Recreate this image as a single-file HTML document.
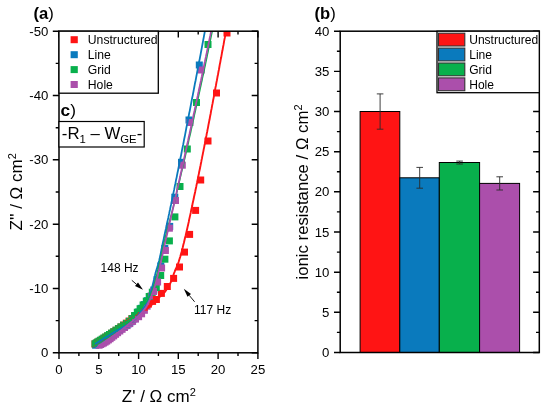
<!DOCTYPE html>
<html><head><meta charset="utf-8"><title>Figure</title>
<style>html,body{margin:0;padding:0;background:#fff}body{width:550px;height:413px;overflow:hidden}</style></head>
<body>
<svg width="550" height="413" viewBox="0 0 550 413" style="display:block">
<rect width="550" height="413" fill="#fff"/>
<defs><clipPath id="cl"><rect x="59" y="31.2" width="198.9" height="321.6"/></clipPath></defs>
<g clip-path="url(#cl)">
<rect x="92.1" y="341.7" width="7" height="7" fill="#0a7abd"/>
<rect x="91.5" y="340.5" width="7" height="7" fill="#ff1414"/>
<rect x="93.3" y="340.9" width="7" height="7" fill="#0a7abd"/>
<rect x="91.5" y="340.3" width="7" height="7" fill="#08b04c"/>
<rect x="95.6" y="341.7" width="7" height="7" fill="#ab4fab"/>
<rect x="92.9" y="339.7" width="7" height="7" fill="#ff1414"/>
<rect x="94.6" y="340.1" width="7" height="7" fill="#0a7abd"/>
<rect x="92.8" y="339.5" width="7" height="7" fill="#08b04c"/>
<rect x="97.0" y="341.0" width="7" height="7" fill="#ab4fab"/>
<rect x="94.3" y="338.8" width="7" height="7" fill="#ff1414"/>
<rect x="96.0" y="339.2" width="7" height="7" fill="#0a7abd"/>
<rect x="94.1" y="338.6" width="7" height="7" fill="#08b04c"/>
<rect x="98.5" y="340.3" width="7" height="7" fill="#ab4fab"/>
<rect x="95.7" y="337.9" width="7" height="7" fill="#ff1414"/>
<rect x="97.5" y="338.3" width="7" height="7" fill="#0a7abd"/>
<rect x="95.6" y="337.7" width="7" height="7" fill="#08b04c"/>
<rect x="100.0" y="339.5" width="7" height="7" fill="#ab4fab"/>
<rect x="97.3" y="337.0" width="7" height="7" fill="#ff1414"/>
<rect x="99.0" y="337.3" width="7" height="7" fill="#0a7abd"/>
<rect x="97.1" y="336.7" width="7" height="7" fill="#08b04c"/>
<rect x="101.6" y="338.6" width="7" height="7" fill="#ab4fab"/>
<rect x="98.9" y="335.9" width="7" height="7" fill="#ff1414"/>
<rect x="100.6" y="336.2" width="7" height="7" fill="#0a7abd"/>
<rect x="98.7" y="335.7" width="7" height="7" fill="#08b04c"/>
<rect x="103.2" y="337.6" width="7" height="7" fill="#ab4fab"/>
<rect x="100.6" y="334.8" width="7" height="7" fill="#ff1414"/>
<rect x="102.3" y="335.1" width="7" height="7" fill="#0a7abd"/>
<rect x="100.4" y="334.6" width="7" height="7" fill="#08b04c"/>
<rect x="104.9" y="336.4" width="7" height="7" fill="#ab4fab"/>
<rect x="102.4" y="333.7" width="7" height="7" fill="#ff1414"/>
<rect x="104.0" y="334.0" width="7" height="7" fill="#0a7abd"/>
<rect x="102.2" y="333.5" width="7" height="7" fill="#08b04c"/>
<rect x="106.6" y="335.2" width="7" height="7" fill="#ab4fab"/>
<rect x="104.2" y="332.5" width="7" height="7" fill="#ff1414"/>
<rect x="105.9" y="332.8" width="7" height="7" fill="#0a7abd"/>
<rect x="104.1" y="332.2" width="7" height="7" fill="#08b04c"/>
<rect x="108.3" y="333.8" width="7" height="7" fill="#ab4fab"/>
<rect x="106.2" y="331.2" width="7" height="7" fill="#ff1414"/>
<rect x="107.8" y="331.5" width="7" height="7" fill="#0a7abd"/>
<rect x="106.0" y="331.0" width="7" height="7" fill="#08b04c"/>
<rect x="110.2" y="332.4" width="7" height="7" fill="#ab4fab"/>
<rect x="108.2" y="329.8" width="7" height="7" fill="#ff1414"/>
<rect x="109.9" y="330.1" width="7" height="7" fill="#0a7abd"/>
<rect x="108.1" y="329.6" width="7" height="7" fill="#08b04c"/>
<rect x="112.1" y="330.8" width="7" height="7" fill="#ab4fab"/>
<rect x="110.4" y="328.4" width="7" height="7" fill="#ff1414"/>
<rect x="112.0" y="328.7" width="7" height="7" fill="#0a7abd"/>
<rect x="110.2" y="328.2" width="7" height="7" fill="#08b04c"/>
<rect x="114.1" y="329.2" width="7" height="7" fill="#ab4fab"/>
<rect x="112.6" y="326.8" width="7" height="7" fill="#ff1414"/>
<rect x="114.3" y="327.1" width="7" height="7" fill="#0a7abd"/>
<rect x="112.5" y="326.7" width="7" height="7" fill="#08b04c"/>
<rect x="116.3" y="327.5" width="7" height="7" fill="#ab4fab"/>
<rect x="115.0" y="325.2" width="7" height="7" fill="#ff1414"/>
<rect x="116.7" y="325.5" width="7" height="7" fill="#0a7abd"/>
<rect x="114.9" y="325.1" width="7" height="7" fill="#08b04c"/>
<rect x="118.6" y="325.8" width="7" height="7" fill="#ab4fab"/>
<rect x="117.5" y="323.5" width="7" height="7" fill="#ff1414"/>
<rect x="119.2" y="323.9" width="7" height="7" fill="#0a7abd"/>
<rect x="117.4" y="323.4" width="7" height="7" fill="#08b04c"/>
<rect x="121.0" y="324.0" width="7" height="7" fill="#ab4fab"/>
<rect x="120.1" y="321.6" width="7" height="7" fill="#ff1414"/>
<rect x="121.9" y="322.2" width="7" height="7" fill="#0a7abd"/>
<rect x="120.1" y="321.7" width="7" height="7" fill="#08b04c"/>
<rect x="123.6" y="322.1" width="7" height="7" fill="#ab4fab"/>
<rect x="122.8" y="319.7" width="7" height="7" fill="#ff1414"/>
<rect x="124.8" y="320.4" width="7" height="7" fill="#0a7abd"/>
<rect x="123.0" y="319.9" width="7" height="7" fill="#08b04c"/>
<rect x="126.3" y="320.1" width="7" height="7" fill="#ab4fab"/>
<rect x="125.6" y="317.6" width="7" height="7" fill="#ff1414"/>
<rect x="127.6" y="318.2" width="7" height="7" fill="#0a7abd"/>
<rect x="125.8" y="317.8" width="7" height="7" fill="#08b04c"/>
<rect x="129.1" y="317.9" width="7" height="7" fill="#ab4fab"/>
<rect x="128.5" y="315.1" width="7" height="7" fill="#ff1414"/>
<rect x="130.1" y="315.4" width="7" height="7" fill="#0a7abd"/>
<rect x="128.5" y="315.2" width="7" height="7" fill="#08b04c"/>
<rect x="132.0" y="315.6" width="7" height="7" fill="#ab4fab"/>
<rect x="131.2" y="312.2" width="7" height="7" fill="#ff1414"/>
<rect x="132.5" y="312.0" width="7" height="7" fill="#0a7abd"/>
<rect x="131.1" y="312.1" width="7" height="7" fill="#08b04c"/>
<rect x="135.1" y="313.2" width="7" height="7" fill="#ab4fab"/>
<rect x="134.1" y="309.1" width="7" height="7" fill="#ff1414"/>
<rect x="135.1" y="308.5" width="7" height="7" fill="#0a7abd"/>
<rect x="133.8" y="308.7" width="7" height="7" fill="#08b04c"/>
<rect x="138.1" y="310.3" width="7" height="7" fill="#ab4fab"/>
<rect x="137.4" y="306.3" width="7" height="7" fill="#ff1414"/>
<rect x="137.8" y="304.8" width="7" height="7" fill="#0a7abd"/>
<rect x="136.6" y="305.2" width="7" height="7" fill="#08b04c"/>
<rect x="140.9" y="306.8" width="7" height="7" fill="#ab4fab"/>
<rect x="141.1" y="303.6" width="7" height="7" fill="#ff1414"/>
<rect x="140.8" y="301.1" width="7" height="7" fill="#0a7abd"/>
<rect x="139.6" y="301.5" width="7" height="7" fill="#08b04c"/>
<rect x="143.6" y="302.7" width="7" height="7" fill="#ab4fab"/>
<rect x="144.9" y="300.6" width="7" height="7" fill="#ff1414"/>
<rect x="143.9" y="297.2" width="7" height="7" fill="#0a7abd"/>
<rect x="142.8" y="297.6" width="7" height="7" fill="#08b04c"/>
<rect x="146.0" y="297.8" width="7" height="7" fill="#ab4fab"/>
<rect x="149.1" y="297.9" width="7" height="7" fill="#ff1414"/>
<rect x="147.0" y="292.8" width="7" height="7" fill="#0a7abd"/>
<rect x="145.7" y="293.0" width="7" height="7" fill="#08b04c"/>
<rect x="148.3" y="292.3" width="7" height="7" fill="#ab4fab"/>
<rect x="148.8" y="288.7" width="7" height="7" fill="#08b04c"/>
<rect x="152.9" y="296.0" width="7" height="7" fill="#ff1414"/>
<rect x="157.9" y="289.9" width="7" height="7" fill="#ff1414"/>
<rect x="163.8" y="283.0" width="7" height="7" fill="#ff1414"/>
<rect x="170.1" y="274.9" width="7" height="7" fill="#ff1414"/>
<rect x="150.3" y="286.5" width="7" height="7" fill="#0a7abd"/>
<rect x="152.8" y="284.1" width="7" height="7" fill="#08b04c"/>
<rect x="150.0" y="288.0" width="7" height="7" fill="#ab4fab"/>
<rect x="176.0" y="263.5" width="7" height="7" fill="#ff1414"/>
<rect x="153.8" y="276.0" width="7" height="7" fill="#0a7abd"/>
<rect x="157.2" y="272.0" width="7" height="7" fill="#08b04c"/>
<rect x="154.1" y="278.5" width="7" height="7" fill="#ab4fab"/>
<rect x="181.0" y="248.6" width="7" height="7" fill="#ff1414"/>
<rect x="157.3" y="262.5" width="7" height="7" fill="#0a7abd"/>
<rect x="161.4" y="255.7" width="7" height="7" fill="#08b04c"/>
<rect x="158.1" y="264.5" width="7" height="7" fill="#ab4fab"/>
<rect x="186.1" y="230.9" width="7" height="7" fill="#ff1414"/>
<rect x="161.3" y="245.0" width="7" height="7" fill="#0a7abd"/>
<rect x="165.9" y="237.4" width="7" height="7" fill="#08b04c"/>
<rect x="161.9" y="247.0" width="7" height="7" fill="#ab4fab"/>
<rect x="192.1" y="206.9" width="7" height="7" fill="#ff1414"/>
<rect x="166.2" y="222.9" width="7" height="7" fill="#0a7abd"/>
<rect x="171.4" y="213.4" width="7" height="7" fill="#08b04c"/>
<rect x="165.9" y="224.7" width="7" height="7" fill="#ab4fab"/>
<rect x="197.2" y="176.5" width="7" height="7" fill="#ff1414"/>
<rect x="171.3" y="193.7" width="7" height="7" fill="#0a7abd"/>
<rect x="176.5" y="183.0" width="7" height="7" fill="#08b04c"/>
<rect x="172.0" y="197.0" width="7" height="7" fill="#ab4fab"/>
<rect x="204.5" y="137.5" width="7" height="7" fill="#ff1414"/>
<rect x="178.0" y="158.8" width="7" height="7" fill="#0a7abd"/>
<rect x="183.8" y="145.5" width="7" height="7" fill="#08b04c"/>
<rect x="178.8" y="161.7" width="7" height="7" fill="#ab4fab"/>
<rect x="213.0" y="89.5" width="7" height="7" fill="#ff1414"/>
<rect x="185.5" y="116.5" width="7" height="7" fill="#0a7abd"/>
<rect x="193.0" y="99.0" width="7" height="7" fill="#08b04c"/>
<rect x="186.5" y="119.0" width="7" height="7" fill="#ab4fab"/>
<rect x="223.5" y="29.5" width="7" height="7" fill="#ff1414"/>
<rect x="195.8" y="61.5" width="7" height="7" fill="#0a7abd"/>
<rect x="204.5" y="41.0" width="7" height="7" fill="#08b04c"/>
<rect x="197.8" y="66.5" width="7" height="7" fill="#ab4fab"/>
<path d="M226.4,29.0 L226.1,30.8 L225.7,32.5 L225.4,34.3 L225.1,36.1 L224.8,37.9 L224.4,39.6 L224.1,41.4 L223.8,43.2 L223.5,44.9 L223.1,46.7 L222.8,48.5 L222.5,50.3 L222.1,52.0 L221.8,53.8 L221.5,55.6 L221.2,57.3 L220.8,59.1 L220.5,60.9 L220.2,62.6 L219.8,64.4 L219.5,66.2 L219.2,68.0 L218.9,69.7 L218.5,71.5 L218.2,73.3 L217.9,75.0 L217.5,76.8 L217.2,78.6 L216.9,80.4 L216.5,82.1 L216.2,83.9 L215.9,85.7 L215.5,87.4 L215.2,89.2 L214.9,91.0 L214.6,92.7 L214.2,94.5 L213.9,96.3 L213.6,98.1 L213.2,99.8 L212.9,101.6 L212.6,103.4 L212.2,105.1 L211.9,106.9 L211.6,108.7 L211.2,110.4 L210.9,112.2 L210.6,114.0 L210.2,115.8 L209.9,117.5 L209.6,119.3 L209.2,121.1 L208.9,122.8 L208.5,124.6 L208.2,126.4 L207.9,128.1 L207.5,129.9 L207.2,131.7 L206.8,133.4 L206.5,135.2 L206.1,137.0 L205.8,138.7 L205.5,140.5 L205.1,142.3 L204.8,144.0 L204.4,145.8 L204.1,147.6 L203.7,149.3 L203.4,151.1 L203.0,152.9 L202.7,154.6 L202.3,156.4 L202.0,158.2 L201.6,159.9 L201.3,161.7 L200.9,163.5 L200.6,165.2 L200.2,167.0 L199.9,168.8 L199.5,170.5 L199.1,172.3 L198.8,174.1 L198.4,175.8 L198.1,177.6 L197.7,179.4 L197.3,181.1 L197.0,182.9 L196.6,184.7 L196.3,186.4 L195.9,188.2 L195.5,190.0 L195.2,191.7 L194.8,193.5 L194.4,195.2 L194.0,197.0 L193.7,198.8 L193.3,200.5 L192.9,202.3 L192.5,204.0 L192.2,205.8 L191.8,207.6 L191.4,209.3 L191.0,211.1 L190.7,212.9 L190.3,214.6 L189.9,216.4 L189.5,218.1 L189.1,219.9 L188.8,221.7 L188.4,223.4 L188.0,225.2 L187.6,226.9 L187.2,228.7 L186.8,230.4 L186.4,232.2 L186.0,234.0 L185.6,235.7 L185.1,237.5 L184.7,239.2 L184.3,241.0 L183.9,242.7 L183.4,244.5 L183.0,246.2 L182.6,248.0 L182.1,249.7 L181.7,251.4 L181.2,253.2 L180.7,254.9 L180.3,256.7 L179.7,258.4 L179.2,260.1 L178.7,261.8 L178.1,263.5 L177.4,265.2 L176.7,266.8 L176.0,268.5 L175.2,270.2 L174.6,271.8 L173.9,273.5 L173.4,275.2 L172.8,276.9 L172.2,278.7 L171.6,280.3 L170.9,282.0 L170.1,283.6 L169.3,285.2 L168.4,286.8 L167.4,288.3 L166.4,289.8 L165.4,291.3 L164.2,292.6 L163.0,293.9 L161.7,295.2 L160.3,296.4 L159.0,297.6 L157.7,298.9 L156.4,300.1 L155.1,301.4 L153.8,302.7 L152.5,304.0 L151.2,305.2 L149.9,306.4 L148.5,307.6 L147.1,308.7 L145.7,309.7" fill="none" stroke="#ff1414" stroke-width="1.9" stroke-linejoin="round"/>
<path d="M145.7,309.7 L144.2,310.7 L142.6,311.6 L141.1,312.5 L139.5,313.3 L137.8,314.1 L136.2,314.9 L134.6,315.8 L133.0,316.7 L131.5,317.6 L129.9,318.5 L128.4,319.4 L126.8,320.3 L125.3,321.3 L123.8,322.2 L122.2,323.2 L120.7,324.1 L119.2,325.1 L117.7,326.1 L116.2,327.0 L114.7,328.0 L113.2,329.0 L111.7,330.0 L110.2,331.0 L108.7,332.0 L107.2,333.0 L105.7,334.1 L104.2,335.1 L102.7,336.1 L101.3,337.2 L99.8,338.2 L98.4,339.3 L96.9,340.4 L95.4,341.4 L94.0,342.5" fill="none" stroke="#ff1414" stroke-width="1.0" stroke-linejoin="round"/>
<path d="M205.3,29.0 L204.9,31.1 L204.5,33.3 L204.1,35.4 L203.7,37.6 L203.3,39.7 L202.9,41.9 L202.5,44.0 L202.1,46.2 L201.7,48.3 L201.3,50.5 L200.9,52.6 L200.5,54.8 L200.1,56.9 L199.7,59.1 L199.2,61.2 L198.8,63.4 L198.4,65.5 L198.0,67.7 L197.6,69.8 L197.2,72.0 L196.8,74.1 L196.4,76.2 L196.0,78.4 L195.6,80.5 L195.1,82.7 L194.7,84.8 L194.3,87.0 L193.9,89.1 L193.5,91.3 L193.1,93.4 L192.7,95.6 L192.2,97.7 L191.8,99.9 L191.4,102.0 L191.0,104.1 L190.6,106.3 L190.2,108.4 L189.8,110.6 L189.3,112.7 L188.9,114.9 L188.5,117.0 L188.1,119.2 L187.7,121.3 L187.3,123.5 L186.8,125.6 L186.4,127.7 L186.0,129.9 L185.6,132.0 L185.2,134.2 L184.8,136.3 L184.3,138.5 L183.9,140.6 L183.5,142.8 L183.1,144.9 L182.6,147.1 L182.2,149.2 L181.8,151.3 L181.4,153.5 L181.0,155.6 L180.5,157.8 L180.1,159.9 L179.7,162.1 L179.3,164.2 L178.8,166.3 L178.4,168.5 L178.0,170.6 L177.5,172.8 L177.1,174.9 L176.7,177.1 L176.2,179.2 L175.8,181.3 L175.4,183.5 L174.9,185.6 L174.5,187.8 L174.1,189.9 L173.6,192.1 L173.2,194.2 L172.8,196.3 L172.3,198.5 L171.9,200.6 L171.4,202.8 L171.0,204.9 L170.5,207.0 L170.1,209.2 L169.6,211.3 L169.2,213.4 L168.7,215.6 L168.3,217.7 L167.8,219.9 L167.3,222.0 L166.9,224.1 L166.4,226.3 L166.0,228.4 L165.5,230.5 L165.0,232.7 L164.6,234.8 L164.1,236.9 L163.7,239.1 L163.2,241.2 L162.7,243.4 L162.3,245.5 L161.9,247.6 L161.4,249.8 L161.0,251.9 L160.6,254.1 L160.1,256.2 L159.7,258.3 L159.2,260.5 L158.6,262.6 L158.1,264.7 L157.4,266.8 L156.8,268.9 L156.1,271.0 L155.5,273.1 L155.0,275.2 L154.4,277.3 L154.0,279.4 L153.5,281.6 L153.0,283.7 L152.5,285.8 L152.0,288.0 L151.4,290.1 L150.8,292.1 L150.1,294.2 L149.4,296.3 L148.6,298.3 L147.8,300.4 L146.9,302.4 L146.0,304.4 L144.9,306.2 L143.6,308.0 L142.3,309.8 L141.0,311.5 L139.7,313.3 L138.4,315.2 L137.1,316.9 L135.7,318.6 L134.2,320.0 L132.6,321.4 L130.8,322.6 L129.0,323.8 L127.2,324.9 L125.2,326.1 L123.3,327.1 L121.3,328.2 L119.4,329.3 L117.4,330.4 L115.5,331.5 L113.7,332.6 L111.8,333.8 L109.9,334.9 L108.1,336.1 L106.2,337.2 L104.3,338.3 L102.5,339.5 L100.6,340.6 L98.7,341.7 L96.9,342.9 L95.0,344.0" fill="none" stroke="#0a7abd" stroke-width="1.8" stroke-linejoin="round"/>
<path d="M212.7,29.0 L212.3,31.1 L211.8,33.3 L211.4,35.4 L210.9,37.6 L210.5,39.7 L210.1,41.9 L209.6,44.0 L209.2,46.2 L208.7,48.3 L208.3,50.5 L207.9,52.6 L207.4,54.7 L207.0,56.9 L206.5,59.0 L206.1,61.2 L205.6,63.3 L205.2,65.5 L204.7,67.6 L204.3,69.8 L203.8,71.9 L203.4,74.0 L202.9,76.2 L202.4,78.3 L202.0,80.5 L201.5,82.6 L201.1,84.7 L200.6,86.9 L200.1,89.0 L199.7,91.2 L199.2,93.3 L198.7,95.5 L198.3,97.6 L197.8,99.7 L197.3,101.9 L196.9,104.0 L196.4,106.2 L195.9,108.3 L195.5,110.4 L195.0,112.6 L194.5,114.7 L194.1,116.9 L193.6,119.0 L193.1,121.1 L192.7,123.3 L192.2,125.4 L191.7,127.5 L191.2,129.7 L190.8,131.8 L190.3,134.0 L189.8,136.1 L189.3,138.2 L188.8,140.4 L188.4,142.5 L187.9,144.7 L187.4,146.8 L186.9,148.9 L186.4,151.1 L186.0,153.2 L185.5,155.3 L185.0,157.5 L184.5,159.6 L184.0,161.7 L183.5,163.9 L183.0,166.0 L182.5,168.1 L182.0,170.3 L181.5,172.4 L181.0,174.5 L180.5,176.7 L180.0,178.8 L179.5,180.9 L179.0,183.1 L178.5,185.2 L178.0,187.3 L177.5,189.5 L177.0,191.6 L176.5,193.7 L176.0,195.9 L175.5,198.0 L175.0,200.1 L174.5,202.2 L173.9,204.4 L173.4,206.5 L172.8,208.6 L172.3,210.7 L171.7,212.9 L171.2,215.0 L170.6,217.1 L170.0,219.2 L169.5,221.3 L168.9,223.4 L168.4,225.6 L167.8,227.7 L167.2,229.8 L166.7,231.9 L166.2,234.0 L165.6,236.2 L165.1,238.3 L164.6,240.4 L164.1,242.5 L163.6,244.7 L163.1,246.8 L162.6,249.0 L162.2,251.1 L161.8,253.3 L161.3,255.4 L160.9,257.5 L160.4,259.7 L159.9,261.8 L159.4,264.0 L158.9,266.1 L158.4,268.2 L157.9,270.3 L157.3,272.5 L156.8,274.6 L156.2,276.7 L155.6,278.8 L155.1,280.9 L154.5,283.1 L154.0,285.2 L153.4,287.3 L152.7,289.4 L152.0,291.4 L151.1,293.5 L150.2,295.5 L149.1,297.4 L148.0,299.2 L146.8,301.0 L145.4,302.7 L143.9,304.4 L142.5,306.1 L141.1,307.7 L139.6,309.4 L138.2,311.0 L136.7,312.7 L135.3,314.3 L133.9,316.1 L132.4,317.6 L130.7,318.8 L128.9,320.0 L127.0,321.1 L125.0,322.2 L123.1,323.2 L121.1,324.3 L119.2,325.5 L117.4,326.6 L115.6,327.8 L113.7,329.0 L111.9,330.3 L110.1,331.5 L108.3,332.7 L106.5,333.9 L104.7,335.2 L102.9,336.5 L101.1,337.7 L99.3,339.0 L97.5,340.3 L95.8,341.6 L94.0,342.9" fill="none" stroke="#08b04c" stroke-width="1.4" stroke-linejoin="round"/>
<path d="M211.6,29.0 L211.2,31.1 L210.7,33.3 L210.3,35.4 L209.8,37.6 L209.4,39.7 L209.0,41.9 L208.5,44.0 L208.1,46.2 L207.7,48.3 L207.2,50.5 L206.8,52.6 L206.3,54.7 L205.9,56.9 L205.4,59.0 L205.0,61.2 L204.5,63.3 L204.1,65.5 L203.7,67.6 L203.2,69.8 L202.8,71.9 L202.3,74.0 L201.9,76.2 L201.4,78.3 L201.0,80.5 L200.5,82.6 L200.1,84.8 L199.6,86.9 L199.1,89.0 L198.7,91.2 L198.2,93.3 L197.8,95.5 L197.3,97.6 L196.9,99.8 L196.4,101.9 L195.9,104.0 L195.5,106.2 L195.0,108.3 L194.6,110.5 L194.1,112.6 L193.6,114.8 L193.2,116.9 L192.7,119.0 L192.3,121.2 L191.8,123.3 L191.3,125.5 L190.9,127.6 L190.4,129.7 L189.9,131.9 L189.5,134.0 L189.0,136.2 L188.5,138.3 L188.1,140.4 L187.6,142.6 L187.1,144.7 L186.7,146.9 L186.2,149.0 L185.7,151.1 L185.3,153.3 L184.8,155.4 L184.3,157.6 L183.9,159.7 L183.4,161.8 L182.9,164.0 L182.4,166.1 L182.0,168.3 L181.5,170.4 L181.0,172.5 L180.5,174.7 L180.1,176.8 L179.6,178.9 L179.1,181.1 L178.6,183.2 L178.2,185.4 L177.7,187.5 L177.2,189.6 L176.7,191.8 L176.3,193.9 L175.8,196.0 L175.3,198.2 L174.8,200.3 L174.3,202.5 L173.9,204.6 L173.4,206.7 L172.9,208.9 L172.4,211.0 L171.9,213.1 L171.4,215.3 L170.9,217.4 L170.4,219.5 L169.9,221.7 L169.4,223.8 L168.9,225.9 L168.5,228.1 L168.0,230.2 L167.5,232.3 L167.0,234.5 L166.5,236.6 L166.0,238.7 L165.5,240.9 L165.0,243.0 L164.6,245.2 L164.1,247.3 L163.6,249.4 L163.2,251.6 L162.7,253.7 L162.3,255.9 L161.8,258.0 L161.3,260.1 L160.8,262.3 L160.3,264.4 L159.9,266.5 L159.4,268.7 L158.9,270.8 L158.3,272.9 L157.8,275.1 L157.3,277.2 L156.7,279.3 L156.2,281.4 L155.6,283.5 L155.0,285.6 L154.3,287.7 L153.7,289.8 L152.9,291.9 L152.2,293.9 L151.4,296.0 L150.5,298.0 L149.7,300.0 L148.8,302.0 L147.8,304.0 L146.8,306.0 L145.7,307.8 L144.4,309.6 L143.0,311.3 L141.5,312.9 L140.0,314.5 L138.5,316.0 L136.8,317.5 L135.2,318.9 L133.5,320.3 L131.8,321.8 L130.1,323.2 L128.4,324.5 L126.7,325.9 L125.0,327.3 L123.2,328.6 L121.5,329.9 L119.7,331.2 L118.0,332.5 L116.2,333.8 L114.4,335.0 L112.6,336.3 L110.8,337.6 L109.0,338.8 L107.2,340.0 L105.4,341.3 L103.5,342.5 L101.7,343.7 L99.9,344.8 L98.0,346.0" fill="none" stroke="#ab4fab" stroke-width="1.8" stroke-linejoin="round"/>
</g>
<rect x="59.0" y="31.2" width="198.89999999999998" height="321.6" fill="none" stroke="#000" stroke-width="1.5"/>
<path d="M59.0,352.8v6.2 M59.0,31.2v6.2 M59.0,352.8h-6.2 M257.9,352.8h-6.2 M78.9,352.8v3.3 M78.9,31.2v3.3 M59.0,320.6h-3.3 M257.9,320.6h-3.3 M98.8,352.8v6.2 M98.8,31.2v6.2 M59.0,288.5h-6.2 M257.9,288.5h-6.2 M118.7,352.8v3.3 M118.7,31.2v3.3 M59.0,256.3h-3.3 M257.9,256.3h-3.3 M138.6,352.8v6.2 M138.6,31.2v6.2 M59.0,224.2h-6.2 M257.9,224.2h-6.2 M158.4,352.8v3.3 M158.4,31.2v3.3 M59.0,192.0h-3.3 M257.9,192.0h-3.3 M178.3,352.8v6.2 M178.3,31.2v6.2 M59.0,159.8h-6.2 M257.9,159.8h-6.2 M198.2,352.8v3.3 M198.2,31.2v3.3 M59.0,127.7h-3.3 M257.9,127.7h-3.3 M218.1,352.8v6.2 M218.1,31.2v6.2 M59.0,95.5h-6.2 M257.9,95.5h-6.2 M238.0,352.8v3.3 M238.0,31.2v3.3 M59.0,63.4h-3.3 M257.9,63.4h-3.3 M257.9,352.8v6.2 M257.9,31.2v6.2 M59.0,31.2h-6.2 M257.9,31.2h-6.2" stroke="#000" stroke-width="1.4" fill="none"/>
<rect x="59.0" y="31.2" width="99.30000000000001" height="62.0" fill="#fff" stroke="#000" stroke-width="1.3"/>
<rect x="70.6" y="36.2" width="7.2" height="7" fill="#ff1414"/>
<text x="87.8" y="44.0" font-family="Liberation Sans, Arial, Helvetica, sans-serif" font-size="12.2">Unstructured</text>
<rect x="70.6" y="51.2" width="7.2" height="7" fill="#0a7abd"/>
<text x="87.8" y="59.0" font-family="Liberation Sans, Arial, Helvetica, sans-serif" font-size="12.2">Line</text>
<rect x="70.6" y="66.1" width="7.2" height="7" fill="#08b04c"/>
<text x="87.8" y="73.9" font-family="Liberation Sans, Arial, Helvetica, sans-serif" font-size="12.2">Grid</text>
<rect x="70.6" y="81.0" width="7.2" height="7" fill="#ab4fab"/>
<text x="87.8" y="88.8" font-family="Liberation Sans, Arial, Helvetica, sans-serif" font-size="12.2">Hole</text>
<text x="59.0" y="374.2" text-anchor="middle" font-family="Liberation Sans, Arial, Helvetica, sans-serif" font-size="13.2">0</text>
<text x="98.8" y="374.2" text-anchor="middle" font-family="Liberation Sans, Arial, Helvetica, sans-serif" font-size="13.2">5</text>
<text x="138.6" y="374.2" text-anchor="middle" font-family="Liberation Sans, Arial, Helvetica, sans-serif" font-size="13.2">10</text>
<text x="178.3" y="374.2" text-anchor="middle" font-family="Liberation Sans, Arial, Helvetica, sans-serif" font-size="13.2">15</text>
<text x="218.1" y="374.2" text-anchor="middle" font-family="Liberation Sans, Arial, Helvetica, sans-serif" font-size="13.2">20</text>
<text x="257.9" y="374.2" text-anchor="middle" font-family="Liberation Sans, Arial, Helvetica, sans-serif" font-size="13.2">25</text>
<text x="48.4" y="357.4" text-anchor="end" font-family="Liberation Sans, Arial, Helvetica, sans-serif" font-size="13.2">0</text>
<text x="48.4" y="293.1" text-anchor="end" font-family="Liberation Sans, Arial, Helvetica, sans-serif" font-size="13.2">-10</text>
<text x="48.4" y="228.8" text-anchor="end" font-family="Liberation Sans, Arial, Helvetica, sans-serif" font-size="13.2">-20</text>
<text x="48.4" y="164.4" text-anchor="end" font-family="Liberation Sans, Arial, Helvetica, sans-serif" font-size="13.2">-30</text>
<text x="48.4" y="100.1" text-anchor="end" font-family="Liberation Sans, Arial, Helvetica, sans-serif" font-size="13.2">-40</text>
<text x="48.4" y="35.8" text-anchor="end" font-family="Liberation Sans, Arial, Helvetica, sans-serif" font-size="13.2">-50</text>
<text x="158.8" y="402.3" text-anchor="middle" font-family="Liberation Sans, Arial, Helvetica, sans-serif" font-size="17">Z' / Ω cm<tspan dy="-6.8" font-size="11">2</tspan></text>
<text transform="translate(22.4,191.8) rotate(-90)" text-anchor="middle" font-family="Liberation Sans, Arial, Helvetica, sans-serif" font-size="17">Z'' / Ω cm<tspan dy="-6.8" font-size="11">2</tspan></text>
<text x="33.6" y="18.6" font-family="Liberation Sans, Arial, Helvetica, sans-serif" font-size="16.6"><tspan font-weight="bold">(a</tspan>)</text>
<text x="60.5" y="116.2" font-family="Liberation Sans, Arial, Helvetica, sans-serif" font-size="17.3"><tspan font-weight="bold">c</tspan>)</text>
<rect x="59.0" y="121.5" width="85.19999999999999" height="25.5" fill="#fff" stroke="#000" stroke-width="1.2"/>
<text x="61.8" y="139.2" font-family="Liberation Sans, Arial, Helvetica, sans-serif" font-size="16.8">-R<tspan dy="4" font-size="11.3">1</tspan><tspan dy="-4"> – W</tspan><tspan dy="4" font-size="11.3">GE</tspan><tspan dy="-4">-</tspan></text>
<text x="100.6" y="272.2" font-family="Liberation Sans, Arial, Helvetica, sans-serif" font-size="12">148 Hz</text>
<text x="194" y="314" font-family="Liberation Sans, Arial, Helvetica, sans-serif" font-size="12">117 Hz</text>
<path d="M131.8,280.3L136.5,284.3" stroke="#000" stroke-width="0.9"/><path d="M143.0,289.8L135.0,286.1L138.0,282.5Z" fill="#000"/>
<path d="M194.6,301.8L189.2,295.3" stroke="#000" stroke-width="0.9"/><path d="M183.8,288.8L191.0,293.9L187.5,296.8Z" fill="#000"/>
<rect x="360.1" y="111.5" width="39.7" height="241.0" fill="#ff1414" stroke="#000" stroke-width="1"/>
<rect x="399.8" y="177.8" width="39.5" height="174.7" fill="#0a7abd" stroke="#000" stroke-width="1"/>
<rect x="439.3" y="162.5" width="40.3" height="190.0" fill="#08b04c" stroke="#000" stroke-width="1"/>
<rect x="479.6" y="183.4" width="40.0" height="169.1" fill="#ab4fab" stroke="#000" stroke-width="1"/>
<path d="M380.1,93.9V129.2M376.8,93.9h6.6M376.8,129.2h6.6" stroke="#2a2a2a" stroke-width="0.9" fill="none"/>
<path d="M419.7,167.4V188.2M416.4,167.4h6.6M416.4,188.2h6.6" stroke="#2a2a2a" stroke-width="0.9" fill="none"/>
<path d="M459.6,161.1V164.0M456.3,161.1h6.6M456.3,164.0h6.6" stroke="#2a2a2a" stroke-width="0.9" fill="none"/>
<path d="M499.7,176.8V190.0M496.4,176.8h6.6M496.4,190.0h6.6" stroke="#2a2a2a" stroke-width="0.9" fill="none"/>
<rect x="340.2" y="31.2" width="199.09999999999997" height="321.3" fill="none" stroke="#000" stroke-width="1.5"/>
<path d="M340.2,352.5h-6.2 M539.3,352.5h-6.2 M340.2,332.4h-3.3 M539.3,332.4h-3.3 M340.2,312.3h-6.2 M539.3,312.3h-6.2 M340.2,292.3h-3.3 M539.3,292.3h-3.3 M340.2,272.2h-6.2 M539.3,272.2h-6.2 M340.2,252.1h-3.3 M539.3,252.1h-3.3 M340.2,232.0h-6.2 M539.3,232.0h-6.2 M340.2,211.9h-3.3 M539.3,211.9h-3.3 M340.2,191.8h-6.2 M539.3,191.8h-6.2 M340.2,171.8h-3.3 M539.3,171.8h-3.3 M340.2,151.7h-6.2 M539.3,151.7h-6.2 M340.2,131.6h-3.3 M539.3,131.6h-3.3 M340.2,111.5h-6.2 M539.3,111.5h-6.2 M340.2,91.4h-3.3 M539.3,91.4h-3.3 M340.2,71.4h-6.2 M539.3,71.4h-6.2 M340.2,51.3h-3.3 M539.3,51.3h-3.3 M340.2,31.2h-6.2 M539.3,31.2h-6.2" stroke="#000" stroke-width="1.4" fill="none"/>
<rect x="437" y="31.2" width="102.29999999999995" height="61.5" fill="#fff" stroke="#000" stroke-width="1.3"/>
<rect x="438.5" y="33.2" width="26.3" height="12.8" fill="#ff1414" stroke="#333" stroke-width="1.1"/>
<text x="469.2" y="43.9" font-family="Liberation Sans, Arial, Helvetica, sans-serif" font-size="12.05">Unstructured</text>
<rect x="438.5" y="48.1" width="26.3" height="12.8" fill="#0a7abd" stroke="#333" stroke-width="1.1"/>
<text x="469.2" y="58.8" font-family="Liberation Sans, Arial, Helvetica, sans-serif" font-size="12.05">Line</text>
<rect x="438.5" y="63.0" width="26.3" height="12.8" fill="#08b04c" stroke="#333" stroke-width="1.1"/>
<text x="469.2" y="73.7" font-family="Liberation Sans, Arial, Helvetica, sans-serif" font-size="12.05">Grid</text>
<rect x="438.5" y="77.9" width="26.3" height="12.8" fill="#ab4fab" stroke="#333" stroke-width="1.1"/>
<text x="469.2" y="88.6" font-family="Liberation Sans, Arial, Helvetica, sans-serif" font-size="12.05">Hole</text>
<text x="329.3" y="357.1" text-anchor="end" font-family="Liberation Sans, Arial, Helvetica, sans-serif" font-size="13.2">0</text>
<text x="329.3" y="316.9" text-anchor="end" font-family="Liberation Sans, Arial, Helvetica, sans-serif" font-size="13.2">5</text>
<text x="329.3" y="276.8" text-anchor="end" font-family="Liberation Sans, Arial, Helvetica, sans-serif" font-size="13.2">10</text>
<text x="329.3" y="236.6" text-anchor="end" font-family="Liberation Sans, Arial, Helvetica, sans-serif" font-size="13.2">15</text>
<text x="329.3" y="196.4" text-anchor="end" font-family="Liberation Sans, Arial, Helvetica, sans-serif" font-size="13.2">20</text>
<text x="329.3" y="156.3" text-anchor="end" font-family="Liberation Sans, Arial, Helvetica, sans-serif" font-size="13.2">25</text>
<text x="329.3" y="116.1" text-anchor="end" font-family="Liberation Sans, Arial, Helvetica, sans-serif" font-size="13.2">30</text>
<text x="329.3" y="76.0" text-anchor="end" font-family="Liberation Sans, Arial, Helvetica, sans-serif" font-size="13.2">35</text>
<text x="329.3" y="35.8" text-anchor="end" font-family="Liberation Sans, Arial, Helvetica, sans-serif" font-size="13.2">40</text>
<text transform="translate(308.4,192) rotate(-90)" text-anchor="middle" font-family="Liberation Sans, Arial, Helvetica, sans-serif" font-size="16.75">ionic resistance / Ω cm<tspan dy="-6.8" font-size="11">2</tspan></text>
<text x="314.5" y="18.6" font-family="Liberation Sans, Arial, Helvetica, sans-serif" font-size="16.6"><tspan font-weight="bold">(b</tspan>)</text>
</svg>
</body></html>
